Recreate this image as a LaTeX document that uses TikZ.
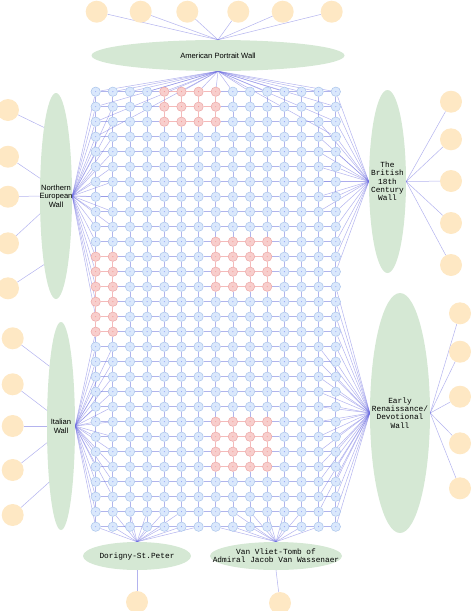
\documentclass[tikz,border=0pt]{standalone}
\usepackage{fontspec}
\setsansfont{Liberation Sans}
\setmonofont{Liberation Mono}
\usetikzlibrary{shapes.geometric}
\definecolor{wl}{RGB}{213,232,212}
\definecolor{gs}{RGB}{254,232,196}
\definecolor{sf}{RGB}{218,232,252}
\definecolor{sl}{RGB}{169,196,235}
\definecolor{hf}{RGB}{248,206,204}
\definecolor{hl}{RGB}{236,166,166}
\definecolor{ln}{RGB}{176,180,236}
\definecolor{hln}{RGB}{244,186,186}
\definecolor{fn}{RGB}{104,104,222}
\def\colstep{17.15}
\def\rowstep{15}
\pgfdeclarelayer{back}
\pgfsetlayers{back,main}
\newcommand{\wall}[7]{\node[wallshape,minimum width=#4,minimum height=#5,label={[#6]center:{#7}}] (#3) at (#1,#2) {};}
\newcommand{\guest}[3]{\node[guestshape] (#3) at (#1,#2) {};}

\begin{document}
\begin{tikzpicture}[x=1pt,y=-1pt,
  spot/.style={circle,draw=sl,fill=sf,minimum size=9.4pt,inner sep=0pt,line width=0.5pt,
    path picture={\fill[sl!60!blue] (path picture bounding box.center) circle (0.45pt);}},
  hot/.style={spot,draw=hl,fill=hf,
    path picture={\fill[hl!70!red] (path picture bounding box.center) circle (0.45pt);}},
  link/.style={draw=ln,line width=0.8pt},
  hotlink/.style={draw=hln,line width=0.8pt},
  fan/.style={draw=fn,draw opacity=0.5,line width=0.5pt},
  wallshape/.style={ellipse,fill=wl,inner sep=0pt},
  guestshape/.style={circle,fill=gs,minimum size=22pt,inner sep=0pt},
  sanswall/.style={font=\sffamily\fontsize{7.6}{8.6}\selectfont,align=center},
  monowall/.style={font=\ttfamily\fontsize{7.8}{8.3}\selectfont,align=center},
  declare function={ishot(\p,\q)=(\q<3)*(\p>3)*(\p<8)+(\q>10)*(\q<17)*(\p<2)
    +(\q>9)*(\q<14)*(\p>6)*(\p<11)+(\q>21)*(\q<26)*(\p>6)*(\p<11);}]
\useasboundingbox (0,0) rectangle (474,611);

% walls
\wall{218}{55.5}{apw}{253pt}{31pt}{sanswall}{American Portrait Wall}
\wall{56}{196}{new}{32pt}{206pt}{sanswall}{Northern\\European\\Wall}
\wall{387.5}{181.5}{btw}{37pt}{183pt}{monowall}{The\\British\\18th\\Century\\Wall}
\wall{61}{426}{itw}{28pt}{208pt}{sanswall}{Italian\\Wall}
\wall{400}{413}{erw}{60pt}{240pt}{monowall}{Early\\Renaissance/\\Devotional\\Wall}
\wall{137}{556}{dsw}{108pt}{28pt}{monowall}{Dorigny-St.Peter}
\wall{276}{556}{vvw}{132pt}{28pt}{monowall}{Van Vliet-Tomb of\\Admiral Jacob Van Wassenaer}

% visitors
\foreach \x [count=\i] in {96.7,140.7,187.3,238.3,282.7,331.7} {
  \guest{\x}{11.7}{ap\i}
  \draw[fan] (ap\i) -- (apw.north);
}
\foreach \y/\a [count=\i] in {110/100,156.7/132,196.7/180,243.3/228,288.3/260} {
  \guest{8}{\y}{ne\i}
  \draw[fan] (ne\i) -- (new.\a);
}
\foreach \y [count=\i] in {101.7,139.3,181,223,265} {
  \guest{451}{\y}{bt\i}
  \draw[fan] (bt\i) -- (btw.east);
}
\foreach \y/\a [count=\i] in {338.3/101,384.3/132,426/180,470/230,515/258} {
  \guest{12.7}{\y}{it\i}
  \draw[fan] (it\i) -- (itw.\a);
}
\foreach \y [count=\i] in {313.3,351.7,396.7,443.3,488.3} {
  \guest{460}{\y}{er\i}
  \draw[fan] (er\i) -- (erw.east);
}
\guest{137}{602}{ds1}
\draw[fan] (ds1) -- (dsw.south);
\guest{280}{603}{vv1}
\draw[fan] (vv1) -- (vvw.south);

% floor grid
\foreach \col in {0,...,14} \foreach \row in {0,...,29} {
  \pgfmathtruncatemacro\h{ishot(\col,\row)}
  \ifnum\h=1 \def\look{hot}\else\def\look{spot}\fi
  \node[\look] (g-\col-\row) at ({95.7+\colstep*\col},{91.7+\rowstep*\row}) {};
}

\begin{pgfonlayer}{back}
\foreach \col in {0,...,13} \foreach \row in {0,...,29} {
  \pgfmathtruncatemacro\nx{\col+1}
  \pgfmathtruncatemacro\h{ishot(\col,\row)*ishot(\nx,\row)}
  \ifnum\h=1 \def\look{hotlink}\else\def\look{link}\fi
  \draw[\look] (g-\col-\row) -- (g-\nx-\row);
}
\foreach \col in {0,...,14} \foreach \row in {0,...,28} {
  \pgfmathtruncatemacro\ny{\row+1}
  \pgfmathtruncatemacro\h{ishot(\col,\row)*ishot(\col,\ny)}
  \ifnum\h=1 \def\look{hotlink}\else\def\look{link}\fi
  \draw[\look] (g-\col-\row) -- (g-\col-\ny);
}

% walls to floor
\foreach \col in {0,...,14} \draw[fan] (apw.south) -- (g-\col-0);
\foreach \row in {1,2,3} {
  \draw[fan] (apw.south) -- (g-0-\row);
  \draw[fan] (apw.south) -- (g-14-\row);
}
\foreach \row in {0,...,15} \draw[fan] (new.east) -- (g-0-\row);
\foreach \row in {1,...,9} \draw[fan] (new.east) -- (g-1-\row);
\foreach \row in {0,...,12} \draw[fan] (btw.west) -- (g-14-\row);
\foreach \row in {2,...,8} \draw[fan] (btw.west) -- (g-13-\row);
\foreach \row in {16,...,29} \draw[fan] (itw.east) -- (g-0-\row);
\foreach \row in {17,...,27} \draw[fan] (itw.east) -- (g-1-\row);
\foreach \row in {13,...,29} \draw[fan] (erw.west) -- (g-14-\row);
\foreach \row in {17,...,28} \draw[fan] (erw.west) -- (g-13-\row);
\foreach \col in {0,...,6} \draw[fan] (dsw.north) -- (g-\col-29);
\foreach \col in {1,...,5} \draw[fan] (dsw.north) -- (g-\col-28);
\foreach \col in {7,...,13} \draw[fan] (vvw.north) -- (g-\col-29);
\foreach \col in {8,...,12} \draw[fan] (vvw.north) -- (g-\col-28);
\end{pgfonlayer}
\end{tikzpicture}
\end{document}
